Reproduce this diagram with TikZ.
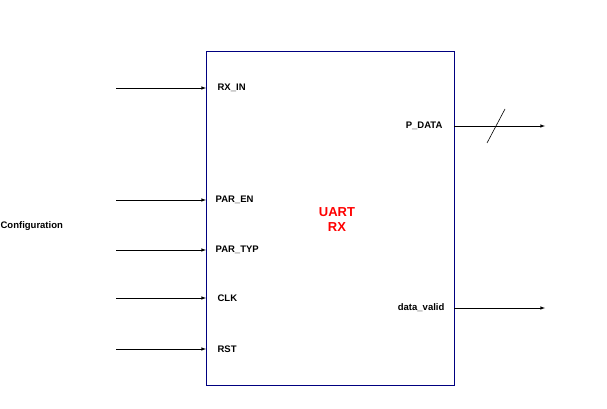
\documentclass[tikz,border=0pt]{standalone}
\usepackage{fontspec}
\setmainfont{Liberation Sans}
\usetikzlibrary{positioning}
\tikzset{
    sig/.style={font=\bfseries\fontsize{9.5}{11}\selectfont, anchor=west},
    osig/.style={font=\bfseries\fontsize{9.5}{11}\selectfont, anchor=east},
}
\begin{document}
\begin{tikzpicture}[x=1pt,y=-1pt,>=latex,every path/.style={line width=0.6pt}]
		\useasboundingbox[fill=white] (0,0) rectangle (607,409);
		\draw[color=blue!50!black, line width=1pt] (206,52) rectangle (454,385);
	    \node[text=red, font=\bfseries\fontsize{13}{15}\selectfont, align=center] (core) at (337,220) {UART\\RX};

		% inputs
		\coordinate (rxs) at (116,88);   \coordinate (rxe) at (206,88);
		\coordinate (pes) at (116,200);  \coordinate (pee) at (206,200);
		\coordinate (pts) at (116,250);  \coordinate (pte) at (206,250);
		\coordinate (cks) at (116,298);  \coordinate (cke) at (206,298);
		\coordinate (rss) at (116,349);  \coordinate (rse) at (206,349);
		\node[sig] (rx) at (214,88) {RX\_IN};
		\node[sig] (pe) at (212,200) {PAR\_EN};
		\node[sig] (pt) at (212,250) {PAR\_TYP};
		\node[sig] (ck) at (214,298) {CLK};
		\node[sig] (rs) at (214,349) {RST};
		\node[font=\bfseries\fontsize{9.5}{11}\selectfont, anchor=west] (cfg) at (-3,226) {Configuration};

		% outputs
		\coordinate (pds) at (454,126);  \coordinate (pde) at (545,126);
		\coordinate (dvs) at (454,308);  \coordinate (dve) at (545,308);
		\node[osig] (pd) at (446,126) {P\_DATA};
		\node[osig] (dv) at (448,308) {data\_valid};

		% arrows
		\draw[->] (rxs) -- (rxe);
		\draw[->] (pes) -- (pee);
		\draw[->] (pts) -- (pte);
		\draw[->] (cks) -- (cke);
		\draw[->] (rss) -- (rse);
		\draw[->] (pds) -- (pde);
		\draw[->] (dvs) -- (dve);
		\draw (487,143) -- (505,109);
\end{tikzpicture}
\end{document}
